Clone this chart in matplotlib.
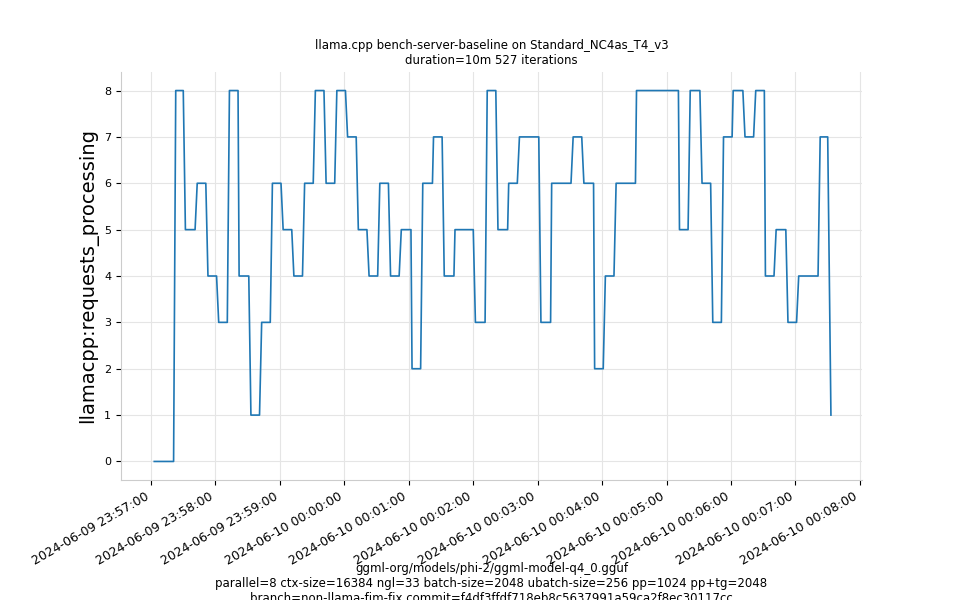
import matplotlib
matplotlib.use("Agg")
import matplotlib.pyplot as plt
import matplotlib.dates as mdates
import pandas as pd

# vertex positions: seconds after 2024-06-09 23:57:00, value
secs = [3, 21, 23, 30, 32, 41, 43, 51, 53, 61, 63, 71, 73, 81, 82, 91, 93, 101, 103, 111,
        113, 121, 123, 131, 133, 141, 143, 151, 153, 161, 163, 171, 173, 181, 183, 191,
        193, 201, 203, 211, 213, 221, 223, 231, 233, 242, 243, 251, 253, 262, 263, 271,
        273, 282, 283, 300, 302, 311, 313, 321, 323, 332, 333, 341, 343, 361, 363, 372,
        373, 391, 393, 401, 403, 412, 413, 421, 423, 431, 433, 451, 452, 491, 492, 500,
        502, 511, 513, 521, 523, 531, 533, 541, 542, 551, 553, 561, 563, 571, 572, 580,
        582, 591, 593, 601, 603, 621, 623, 630, 633]
vals = [0, 0, 8, 8, 5, 5, 6, 6, 4, 4, 3, 3, 8, 8, 4, 4, 1, 1, 3, 3,
        6, 6, 5, 5, 4, 4, 6, 6, 8, 8, 6, 6, 8, 8, 7, 7,
        5, 5, 4, 4, 6, 6, 4, 4, 5, 5, 2, 2, 6, 6, 7, 7,
        4, 4, 5, 5, 3, 3, 8, 8, 5, 5, 6, 6, 7, 7, 3, 3,
        6, 6, 7, 7, 6, 6, 2, 2, 4, 4, 6, 6, 8, 8, 5, 5,
        8, 8, 6, 6, 3, 3, 7, 7, 8, 8, 7, 7, 8, 8, 4, 4,
        5, 5, 3, 3, 4, 4, 7, 7, 1]

start = pd.Timestamp("2024-06-09 23:57:00")
times = start + pd.to_timedelta(secs, unit="s")

fig = plt.figure(figsize=(9.6, 6), dpi=100)
ax = fig.add_axes([0.126, 0.2, 0.772, 0.68])
ax.plot(times, vals, color="#1f77b4", linewidth=1.2)

ax.set_xlim(start - pd.Timedelta(seconds=28), pd.Timestamp("2024-06-10 00:08:02"))
ax.set_ylim(-0.4, 8.4)
ax.xaxis.set_major_locator(mdates.MinuteLocator())
ax.xaxis.set_major_formatter(mdates.DateFormatter("%Y-%m-%d %H:%M:%S"))
plt.setp(ax.get_xticklabels(), rotation=30, ha="right", fontsize=9)
ax.tick_params(axis="y", labelsize=8)
ax.grid(True, color="#e5e5e5", linewidth=0.8)
for s in ["top", "right"]:
    ax.spines[s].set_visible(False)
for s in ["left", "bottom"]:
    ax.spines[s].set_color("#cccccc")

ax.set_ylabel("llamacpp:requests_processing", fontsize=14)
ax.set_title("llama.cpp bench-server-baseline on Standard_NC4as_T4_v3\nduration=10m 527 iterations",
             fontsize=8.5)
fig.text(0.512, 0.028, "ggml-org/models/phi-2/ggml-model-q4_0.gguf\n"
         "parallel=8 ctx-size=16384 ngl=33 batch-size=2048 ubatch-size=256 pp=1024 pp+tg=2048\n"
         "branch=non-llama-fim-fix commit=f4df3ffdf718eb8c5637991a59ca2f8ec30117cc",
         ha="center", va="center", fontsize=8.5)

fig.savefig("out.png", dpi=100)
